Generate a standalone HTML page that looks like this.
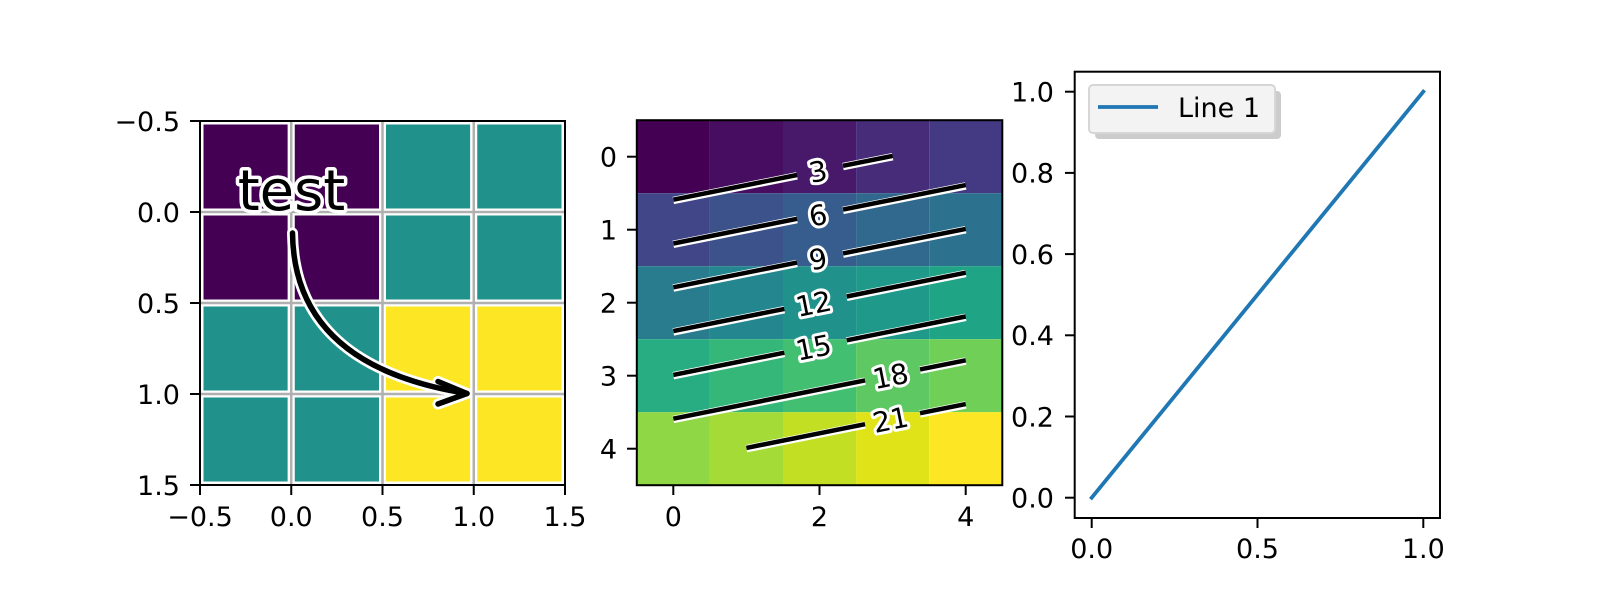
<!DOCTYPE html>
<html><head><meta charset="utf-8"><style>html,body{margin:0;padding:0;background:#fff}svg{display:block}text{font-family:"DejaVu Sans","Liberation Sans",sans-serif}</style></head>
<body>
<svg width="1600" height="600" viewBox="0 0 1600 600" xmlns="http://www.w3.org/2000/svg">
<rect width="1600" height="600" fill="#fff"/>
<!-- Axes 1 -->
<g stroke="#fff" stroke-width="7">
<rect x="200" y="121" width="91.25" height="91" fill="#440154"/>
<rect x="291.25" y="121" width="91.25" height="91" fill="#440154"/>
<rect x="382.5" y="121" width="91.25" height="91" fill="#21918c"/>
<rect x="473.75" y="121" width="91.25" height="91" fill="#21918c"/>
<rect x="200" y="212" width="91.25" height="91" fill="#440154"/>
<rect x="291.25" y="212" width="91.25" height="91" fill="#440154"/>
<rect x="382.5" y="212" width="91.25" height="91" fill="#21918c"/>
<rect x="473.75" y="212" width="91.25" height="91" fill="#21918c"/>
<rect x="200" y="303" width="91.25" height="91" fill="#21918c"/>
<rect x="291.25" y="303" width="91.25" height="91" fill="#21918c"/>
<rect x="382.5" y="303" width="91.25" height="91" fill="#fde725"/>
<rect x="473.75" y="303" width="91.25" height="91" fill="#fde725"/>
<rect x="200" y="394" width="91.25" height="91" fill="#21918c"/>
<rect x="291.25" y="394" width="91.25" height="91" fill="#21918c"/>
<rect x="382.5" y="394" width="91.25" height="91" fill="#fde725"/>
<rect x="473.75" y="394" width="91.25" height="91" fill="#fde725"/>
</g>
<g stroke="#b0b0b0" stroke-width="2.5">
<line x1="291.25" y1="121" x2="291.25" y2="485"/><line x1="382.5" y1="121" x2="382.5" y2="485"/><line x1="473.75" y1="121" x2="473.75" y2="485"/>
<line x1="200" y1="212" x2="565" y2="212"/><line x1="200" y1="303" x2="565" y2="303"/><line x1="200" y1="394" x2="565" y2="394"/>
</g>
<path d="M292.5,233 Q294,366 467,393.5" fill="none" stroke="#fff" stroke-width="11" stroke-linecap="round"/>
<path d="M438,381.5 L467,393.5 L438,404" fill="none" stroke="#fff" stroke-width="11" stroke-linecap="round" stroke-linejoin="round"/>
<path d="M292.5,233 Q294,366 467,393.5" fill="none" stroke="#000" stroke-width="5.5" stroke-linecap="round"/>
<path d="M438,381.5 L467,393.5 L438,404" fill="none" stroke="#000" stroke-width="5.5" stroke-linecap="round" stroke-linejoin="round"/>
<text x="291.5" y="210" font-size="56" text-anchor="middle" fill="#000" stroke="#fff" stroke-width="7" paint-order="stroke" stroke-linejoin="round">test</text>
<rect x="200" y="121" width="365" height="364" fill="none" stroke="#000" stroke-width="2"/>
<g stroke="#000" stroke-width="2">
<line x1="190" y1="121" x2="200" y2="121"/><line x1="190" y1="212" x2="200" y2="212"/><line x1="190" y1="303" x2="200" y2="303"/><line x1="190" y1="394" x2="200" y2="394"/><line x1="190" y1="485" x2="200" y2="485"/>
<line x1="200" y1="485" x2="200" y2="495"/><line x1="291.25" y1="485" x2="291.25" y2="495"/><line x1="382.5" y1="485" x2="382.5" y2="495"/><line x1="473.75" y1="485" x2="473.75" y2="495"/><line x1="565" y1="485" x2="565" y2="495"/>
</g>
<g font-size="27" fill="#000" text-anchor="end">
<text x="180" y="131">−0.5</text><text x="180" y="222">0.0</text><text x="180" y="313">0.5</text><text x="180" y="404">1.0</text><text x="180" y="495">1.5</text>
</g>
<g font-size="27" fill="#000" text-anchor="middle">
<text x="200" y="526">−0.5</text><text x="291.25" y="526">0.0</text><text x="382.5" y="526">0.5</text><text x="473.75" y="526">1.0</text><text x="565" y="526">1.5</text>
</g>
<!-- Axes 2 -->
<g>
<rect x="636.8" y="120.2" width="73.1" height="73" fill="#440154"/><rect x="709.9" y="120.2" width="73.1" height="73" fill="#470d60"/><rect x="783" y="120.2" width="73.1" height="73" fill="#48186a"/><rect x="856.1" y="120.2" width="73.1" height="73" fill="#472c7a"/><rect x="929.2" y="120.2" width="73.1" height="73" fill="#443983"/>
<rect x="636.8" y="193.2" width="73.1" height="73" fill="#404688"/><rect x="709.9" y="193.2" width="73.1" height="73" fill="#3b528b"/><rect x="783" y="193.2" width="73.1" height="73" fill="#365d8d"/><rect x="856.1" y="193.2" width="73.1" height="73" fill="#31688e"/><rect x="929.2" y="193.2" width="73.1" height="73" fill="#2c728e"/>
<rect x="636.8" y="266.2" width="73.1" height="73" fill="#287c8e"/><rect x="709.9" y="266.2" width="73.1" height="73" fill="#24868e"/><rect x="783" y="266.2" width="73.1" height="73" fill="#21918c"/><rect x="856.1" y="266.2" width="73.1" height="73" fill="#1f9a8a"/><rect x="929.2" y="266.2" width="73.1" height="73" fill="#20a486"/>
<rect x="636.8" y="339.2" width="73.1" height="73" fill="#27ad81"/><rect x="709.9" y="339.2" width="73.1" height="73" fill="#35b779"/><rect x="783" y="339.2" width="73.1" height="73" fill="#43bf71"/><rect x="856.1" y="339.2" width="73.1" height="73" fill="#5ec962"/><rect x="929.2" y="339.2" width="73.1" height="73" fill="#70cf57"/>
<rect x="636.8" y="412.2" width="73.1" height="73" fill="#8fd744"/><rect x="709.9" y="412.2" width="73.1" height="73" fill="#a5db36"/><rect x="783" y="412.2" width="73.1" height="73" fill="#c2df23"/><rect x="856.1" y="412.2" width="73.1" height="73" fill="#dfe318"/><rect x="929.2" y="412.2" width="73.1" height="73" fill="#fde725"/>
</g>
<g fill="none" stroke-linecap="butt">
<g stroke="#fff" stroke-width="7.5">
<path d="M673.3,200.5 L797,175.8 M843,166.6 L892.6,156.7"/>
<path d="M673.3,244.3 L797,219.6 M843,210.4 L965.7,185.9"/>
<path d="M673.3,288.1 L797,263.4 M843,254.2 L965.7,229.7"/>
<path d="M673.3,331.9 L784.3,309.7 M846.7,297.3 L965.7,273.5"/>
<path d="M673.3,375.7 L784.3,353.5 M846.7,341.1 L965.7,317.3"/>
<path d="M673.3,419.5 L865,381.2 M920,370.2 L965.7,361.1"/>
<path d="M746.4,448.7 L865,425 M920,414 L965.7,404.9"/>
</g>
<g stroke="#000" stroke-width="4.5" transform="translate(0,-0.8)">
<path d="M673.3,200.5 L797,175.8 M843,166.6 L892.6,156.7"/>
<path d="M673.3,244.3 L797,219.6 M843,210.4 L965.7,185.9"/>
<path d="M673.3,288.1 L797,263.4 M843,254.2 L965.7,229.7"/>
<path d="M673.3,331.9 L784.3,309.7 M846.7,297.3 L965.7,273.5"/>
<path d="M673.3,375.7 L784.3,353.5 M846.7,341.1 L965.7,317.3"/>
<path d="M673.3,419.5 L865,381.2 M920,370.2 L965.7,361.1"/>
<path d="M746.4,448.7 L865,425 M920,414 L965.7,404.9"/>
</g>
</g>
<g font-size="28" fill="#000" stroke="#fff" stroke-width="6" paint-order="stroke" stroke-linejoin="round" text-anchor="middle">
<text transform="translate(820,181.2) rotate(-11.3)">3</text>
<text transform="translate(820,225) rotate(-11.3)">6</text>
<text transform="translate(820,268.8) rotate(-11.3)">9</text>
<text transform="translate(815.5,313.5) rotate(-11.3)">12</text>
<text transform="translate(815.5,357.3) rotate(-11.3)">15</text>
<text transform="translate(892.5,385.7) rotate(-11.3)">18</text>
<text transform="translate(892.5,429.5) rotate(-11.3)">21</text>
</g>
<rect x="636.8" y="120.2" width="365.5" height="365" fill="none" stroke="#000" stroke-width="2"/>
<g stroke="#000" stroke-width="2">
<line x1="627" y1="156.7" x2="637" y2="156.7"/><line x1="627" y1="229.7" x2="637" y2="229.7"/><line x1="627" y1="302.7" x2="637" y2="302.7"/><line x1="627" y1="375.7" x2="637" y2="375.7"/><line x1="627" y1="448.7" x2="637" y2="448.7"/>
<line x1="673.3" y1="485" x2="673.3" y2="495"/><line x1="819.5" y1="485" x2="819.5" y2="495"/><line x1="965.7" y1="485" x2="965.7" y2="495"/>
</g>
<g font-size="27" fill="#000" text-anchor="end">
<text x="617" y="166.5">0</text><text x="617" y="239.5">1</text><text x="617" y="312.5">2</text><text x="617" y="385.5">3</text><text x="617" y="458.5">4</text>
</g>
<g font-size="27" fill="#000" text-anchor="middle">
<text x="673.3" y="526">0</text><text x="819.5" y="526">2</text><text x="965.7" y="526">4</text>
</g>
<!-- Axes 3 -->
<line x1="1091.7" y1="497.7" x2="1423.3" y2="91.7" stroke="#1f77b4" stroke-width="3.8" stroke-linecap="square"/>
<rect x="1095" y="91" width="186" height="48" rx="4" fill="#cccccc"/>
<rect x="1089" y="85" width="186" height="48" rx="4" fill="#f3f3f3" stroke="#d6d6d6" stroke-width="2"/>
<line x1="1098" y1="107" x2="1158" y2="107" stroke="#1f77b4" stroke-width="3.8"/>
<text x="1178" y="117" font-size="27" fill="#000">Line 1</text>
<rect x="1074.7" y="71.7" width="365.3" height="446.3" fill="none" stroke="#000" stroke-width="2"/>
<g stroke="#000" stroke-width="2">
<line x1="1065" y1="91.7" x2="1075" y2="91.7"/><line x1="1065" y1="172.9" x2="1075" y2="172.9"/><line x1="1065" y1="254.1" x2="1075" y2="254.1"/><line x1="1065" y1="335.3" x2="1075" y2="335.3"/><line x1="1065" y1="416.5" x2="1075" y2="416.5"/><line x1="1065" y1="497.7" x2="1075" y2="497.7"/>
<line x1="1091.7" y1="518" x2="1091.7" y2="528"/><line x1="1257.5" y1="518" x2="1257.5" y2="528"/><line x1="1423.3" y1="518" x2="1423.3" y2="528"/>
</g>
<g font-size="27" fill="#000" text-anchor="end">
<text x="1054" y="101.5">1.0</text><text x="1054" y="182.7">0.8</text><text x="1054" y="263.9">0.6</text><text x="1054" y="345.1">0.4</text><text x="1054" y="426.3">0.2</text><text x="1054" y="507.5">0.0</text>
</g>
<g font-size="27" fill="#000" text-anchor="middle">
<text x="1091.7" y="558">0.0</text><text x="1257.5" y="558">0.5</text><text x="1423.3" y="558">1.0</text>
</g>
</svg>
</body></html>
